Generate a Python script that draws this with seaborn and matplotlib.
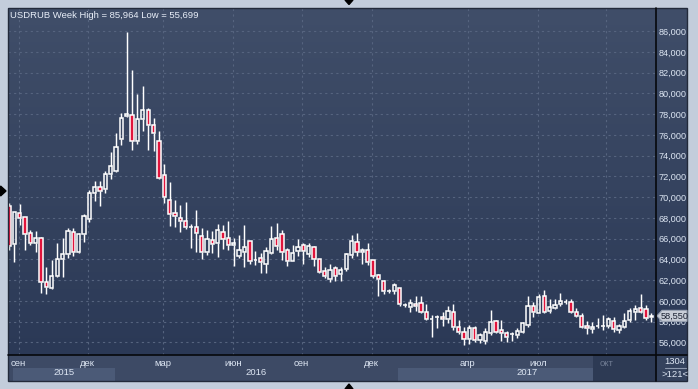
import numpy as np
import pandas as pd
import seaborn as sns
import matplotlib.pyplot as plt
from matplotlib.patches import Rectangle, Polygon
from matplotlib.colors import LinearSegmentedColormap

# weekly USDRUB candles (121 bars)
opens = [69.1, 65.45, 68.5, 68.05, 66.5, 65.55, 66.1, 61.8, 61.2, 62.4,
         64.0, 64.52, 66.67, 64.74, 66.41, 67.86, 70.37, 70.95, 70.75, 72.2,
         72.55, 75.57, 77.79, 77.9, 75.45, 77.5, 78.4, 77.0, 75.41, 72.13,
         69.7, 68.44, 67.96, 67.7, 67.1, 67.09, 66.25, 64.74, 65.86, 65.55,
         66.64, 66.03, 65.35, 64.35, 64.74, 65.76, 63.93, 64.1, 63.6, 64.58,
         66.03, 66.4, 64.9, 63.87, 64.83, 65.4, 64.55, 65.16, 64.0, 62.87,
         62.07, 63.14, 62.55, 63.04, 64.42, 65.64, 64.68, 64.9, 63.93, 62.48,
         61.94, 60.97, 60.97, 61.2, 59.6, 59.45, 59.67, 59.76, 58.9, 58.27,
         58.47, 58.41, 58.22, 58.9, 57.45, 56.96, 56.3, 57.35, 56.2, 56.1,
         56.86, 58.08, 57.17, 56.86, 56.77, 56.7, 56.96, 57.65, 59.5, 58.85,
         60.45, 59.04, 59.34, 59.66, 59.85, 59.85, 58.9, 58.57, 57.62, 57.28,
         57.55, 57.55, 57.6, 58.08, 57.17, 57.5, 58.15, 58.94, 59.28, 59.17,
         58.42]
highs = [69.4, 68.6, 69.33, 68.1, 66.8, 66.7, 66.15, 63.3, 63.9, 65.55,
         66.1, 67.05, 67.0, 66.5, 68.34, 70.7, 71.55, 71.55, 72.52, 74.38,
         76.2, 78.08, 85.964, 82.26, 79.94, 80.7, 78.57, 77.6, 76.38, 73.2,
         71.43, 69.73, 69.24, 69.5, 67.4, 68.8, 67.0, 66.8, 66.76, 67.4,
         67.3, 67.7, 66.03, 66.35, 67.3, 65.8, 64.83, 64.58, 65.2, 67.2,
         67.47, 66.8, 65.06, 65.4, 66.0, 65.55, 65.55, 65.3, 64.05, 63.3,
         63.55, 63.36, 63.3, 64.64, 66.35, 66.5, 65.06, 65.55, 63.95, 62.58,
         62.0, 61.17, 61.7, 61.25, 59.8, 60.2, 60.5, 60.45, 59.67, 58.63,
         58.66, 58.94, 59.5, 59.7, 58.2, 57.45, 57.65, 57.55, 56.86, 57.35,
         59.1, 58.15, 58.15, 57.1, 57.04, 57.35, 57.92, 60.45, 59.85, 60.64,
         61.04, 60.14, 60.2, 60.8, 60.2, 60.14, 59.36, 58.85, 58.05, 57.98,
         58.38, 58.63, 58.47, 58.47, 57.8, 58.8, 59.34, 59.6, 60.64, 59.6,
         58.85]
lows = [64.9, 63.7, 67.3, 64.9, 65.4, 64.7, 60.8, 60.7, 61.1, 62.3,
        62.3, 64.1, 64.35, 64.6, 65.7, 67.6, 69.65, 69.17, 70.37, 71.75,
        72.45, 75.0, 77.7, 74.54, 75.1, 76.4, 74.54, 74.45, 71.78, 69.46,
        67.24, 67.15, 66.66, 66.9, 65.12, 64.7, 64.0, 64.4, 64.58, 64.25,
        64.97, 64.9, 63.4, 64.1, 63.3, 63.6, 63.45, 62.65, 62.65, 64.5,
        64.9, 63.93, 63.4, 63.8, 64.35, 63.55, 64.25, 63.35, 62.65, 62.17,
        61.84, 61.93, 61.93, 62.9, 64.1, 64.35, 63.52, 63.45, 62.23, 60.46,
        60.7, 60.78, 60.7, 59.53, 59.4, 58.9, 59.0, 58.8, 58.15, 56.5,
        57.35, 57.55, 57.9, 57.2, 56.8, 55.699, 55.8, 56.05, 55.96, 55.8,
        56.7, 56.86, 56.15, 56.0, 56.13, 56.4, 56.86, 57.5, 58.47, 58.8,
        58.8, 58.8, 59.17, 59.5, 59.66, 58.8, 58.47, 57.35, 56.77, 56.86,
        57.42, 57.2, 57.36, 56.98, 56.9, 57.35, 58.0, 58.15, 58.85, 58.15,
        58.0]
closes = [65.3, 68.56, 68.0, 66.4, 65.55, 66.1, 61.8, 61.3, 62.4, 64.0,
          64.5, 66.73, 64.74, 66.4, 68.18, 70.37, 70.95, 70.62, 72.2, 73.0,
          74.8, 77.6, 77.98, 75.45, 77.5, 78.4, 77.0, 76.2, 71.87, 69.98,
          68.34, 68.18, 67.67, 67.09, 67.1, 66.5, 64.74, 65.96, 65.45, 66.8,
          65.93, 65.38, 65.55, 64.9, 65.16, 63.83, 63.93, 63.7, 64.8, 65.96,
          65.28, 64.74, 63.86, 64.64, 65.16, 64.83, 65.3, 64.06, 62.8, 62.39,
          62.97, 62.39, 62.97, 64.52, 65.8, 64.74, 64.9, 63.77, 62.42, 62.07,
          60.97, 60.97, 61.5, 59.7, 59.6, 59.8, 59.47, 58.9, 58.27, 58.27,
          58.47, 58.22, 58.98, 57.45, 56.96, 56.3, 57.42, 56.2, 56.67, 57.0,
          57.92, 57.02, 56.86, 56.48, 56.77, 57.1, 57.82, 59.5, 58.94, 60.4,
          58.94, 59.37, 59.6, 60.03, 59.85, 58.94, 58.57, 57.45, 57.36, 57.5,
          57.55, 57.55, 58.22, 57.28, 57.55, 58.08, 59.04, 59.17, 58.94, 58.36,
          58.55]

month_pos = [1.78, 14.67, 28.78, 41.87, 54.67, 67.76, 85.7, 98.8, 111.6]
month_labels = ['сен', 'дек', 'мар', 'июн', 'сен', 'дек', 'апр', 'июл', 'окт']
year_labels = ['2015', '2016', '2017']
year_starts = [0.69, 19.8, 72.7]
year_ends = [19.8, 72.7, 120.8]
price_ticks = list(range(56, 87, 2))
last_price = 58.55

sns.set_style('dark')
plt.rcParams['font.family'] = ['Liberation Sans', 'DejaVu Sans']

W, H = 698, 389
def fx(px):
    return px / W
def fy(py):
    return 1 - py / H

def bare(a):
    a.set_xticks([])
    a.set_yticks([])
    for s in a.spines.values():
        s.set_visible(False)

TXT = '#dde6f3'
RED = '#e0143c'

fig = plt.figure(figsize=(6.98, 3.89), dpi=100, facecolor='#c3cddb')

# background gradient of the chart panel
bg = fig.add_axes([fx(8), fy(355), fx(687) - fx(8), fy(8) - fy(355)], zorder=0)
cmap = LinearSegmentedColormap.from_list('panel', ['#2b3956', '#404e69'])
bg.imshow(np.linspace(0, 1, 256).reshape(-1, 1)[::-1], aspect='auto', cmap=cmap,
          extent=[0, 1, 0, 1])
bg.set_axis_off()

# price area
ax = fig.add_axes([fx(8), fy(355), fx(655.5) - fx(8), fy(8) - fy(355)], zorder=2)
ax.patch.set_alpha(0)
df = pd.DataFrame({'open': opens, 'high': highs, 'low': lows, 'close': closes})
df['x'] = np.arange(len(df))
df['top'] = df[['open', 'close']].max(axis=1)
df['bot'] = df[['open', 'close']].min(axis=1)
df['up'] = df['close'] >= df['open']

ax.vlines(df['x'], df['top'], df['high'], color='white', lw=1.05, zorder=3)
ax.vlines(df['x'], df['low'], df['bot'], color='white', lw=1.05, zorder=3)
ax.bar(df['x'], df['top'] - df['bot'], bottom=df['bot'], width=0.62,
       color=[(0, 0, 0, 0) if u else RED for u in df['up']],
       edgecolor='white', linewidth=1.1, zorder=4)

ax.set_xlim(-0.19, 120.8)
ax.set_ylim(54.78, 88.24)
ax.set_yticks(price_ticks)
ax.set_yticklabels([f'{v:.3f}'.replace('.', ',') for v in price_ticks])
ax.yaxis.tick_right()
ax.tick_params(axis='y', length=0, pad=2.5, labelsize=6.6, labelcolor=TXT)
ax.set_xticks(month_pos)
ax.tick_params(axis='x', length=0, labelbottom=False)
ax.grid(True, color='#56647f', linestyle=(0, (2, 3)), linewidth=0.8, zorder=1)
for s in ax.spines.values():
    s.set_visible(False)

fig.text(fx(10), fy(15), 'USDRUB Week High = 85,964 Low = 55,699', color='#e8eef8',
         fontsize=6.8, ha='left', va='center', zorder=10)

# date strip
sx = fig.add_axes([fx(8), fy(381), fx(655.5) - fx(8), fy(355) - fy(381)],
                  facecolor='#3d4a65', zorder=1)
sx.set_xlim(ax.get_xlim())
sx.set_ylim(0, 1)
bare(sx)
for k, (a, b) in enumerate(zip(year_starts, year_ends)):
    if k % 2 == 0:
        sx.add_patch(Rectangle((a, 0), b - a, 0.5, color='#4b5a77', lw=0))
    sx.text((a + b) / 2, 0.31, year_labels[k], color=TXT, fontsize=6.8,
            ha='center', va='center')
sx.add_patch(Rectangle((109.2, 0), 20, 1, color='#2d3a54', lw=0, zorder=3))
for p, lab in zip(month_pos, month_labels):
    sx.text(p, 0.69, lab, color='#6f7b92' if p > 109.2 else TXT, fontsize=6.8,
            ha='center', va='center', zorder=4)

# right bottom cell
rc = fig.add_axes([fx(655.5), fy(381), fx(687) - fx(655.5), fy(355) - fy(381)],
                  facecolor='#34425d', zorder=1)
bare(rc)

# overlay in pixel coordinates
ov = fig.add_axes([0, 0, 1, 1], zorder=5)
ov.set_xlim(0, W)
ov.set_ylim(H, 0)
ov.set_axis_off()
ov.add_patch(Rectangle((8, 8), 679, 373, fill=False, edgecolor='#222a3a', lw=1))
ov.plot([655.5, 655.5], [8, 381], color='#06080c', lw=1.2)
ov.plot([8, 687], [354.5, 354.5], color='#06080c', lw=1.2)
ov.plot([665, 686], [368, 368], color='#8c98ad', lw=0.8)
ov.text(675, 362, '1304', color=TXT, fontsize=6.8, ha='center', va='center')
ov.text(675, 374.5, '>121<', color=TXT, fontsize=6.8, ha='center', va='center')

ly = 31.2 + (86 - last_price) * 10.37
ov.add_patch(Polygon([(657, ly), (662, ly - 5.5), (687, ly - 5.5), (687, ly + 5.5),
                      (662, ly + 5.5)], closed=True, facecolor='#c9ced8',
                     edgecolor='#9aa3b3', lw=0.8))
ov.text(674.5, ly, f'{last_price:.3f}'.replace('.', ','), color='#1c2333',
        fontsize=6.6, ha='center', va='center')

for tri in ([(345, 0), (353, 0), (349, 4.5)],
            [(345, 389), (353, 389), (349, 384)],
            [(0.5, 186), (0.5, 196), (6, 191)]):
    ov.add_patch(Polygon(tri, closed=True, color='black'))

fig.savefig('out.png', dpi=100, facecolor=fig.get_facecolor())
